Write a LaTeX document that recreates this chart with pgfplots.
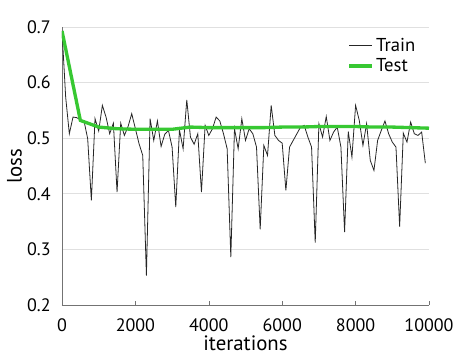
\documentclass[border=0pt]{standalone}
\usepackage{pgfplots}
\pgfplotsset{compat=1.18}
\usepackage{fontspec}
\setmainfont{PT Sans}
\definecolor{testgreen}{RGB}{55,200,50}
\begin{document}
\begin{tikzpicture}
\begin{axis}[
  scale only axis, width=275.25pt, height=208.5pt,
  xmin=0, xmax=10000, ymin=0.2, ymax=0.7,
  axis lines*=left,
  axis line style={black!55, line width=0.6pt},
  ymajorgrids, grid style={black!12, line width=0.6pt},
  xtick={0,2000,4000,6000,8000,10000},
  ytick={0.2,0.3,0.4,0.5,0.6,0.7},
  /pgf/number format/assume math mode=true,
  yticklabel style={/pgf/number format/fixed, /pgf/number format/precision=1, /pgf/number format/fixed zerofill, xshift=-5pt},
  scaled x ticks=false,
  xticklabel style={/pgf/number format/1000 sep={}, yshift=-7pt},
  tick align=inside, major tick length=3pt, tick style={black!55},
  ytick style={draw=none},
  tick label style={font=\fontsize{13.5}{15}\selectfont},
  label style={font=\fontsize{15.6}{18}\selectfont},
  xlabel=iterations, ylabel=loss,
  xlabel style={at={(axis description cs:0.5,-0.163)}, anchor=base},
  ylabel style={at={(axis description cs:-0.1097,0.5)}, anchor=base},
  legend style={at={(1,1)}, anchor=north east, xshift=-5pt, yshift=-4pt, draw=none, fill=white, font=\fontsize{14}{16}\selectfont, row sep=0pt},
  legend cell align=left,
]
\addplot[black!85, line width=0.6pt] coordinates {
(0,0.693)(100,0.574)(200,0.508)(300,0.538)(400,0.537)(500,0.533)(600,0.531)(700,0.499)(800,0.388)(900,0.535)
(1000,0.513)(1100,0.559)(1200,0.538)(1300,0.508)(1400,0.527)(1500,0.403)(1600,0.527)(1700,0.505)(1800,0.521)(1900,0.544)
(2000,0.517)(2100,0.490)(2200,0.469)(2300,0.253)(2400,0.535)(2500,0.496)(2600,0.531)(2700,0.485)(2800,0.507)(2900,0.514)
(3000,0.484)(3100,0.376)(3200,0.515)(3300,0.481)(3400,0.569)(3500,0.502)(3600,0.489)(3700,0.508)(3800,0.403)(3900,0.523)
(4000,0.505)(4100,0.517)(4200,0.538)(4300,0.531)(4400,0.508)(4500,0.481)(4600,0.286)(4700,0.517)(4800,0.481)(4900,0.535)
(5000,0.496)(5100,0.517)(5200,0.508)(5300,0.484)(5400,0.336)(5500,0.487)(5600,0.469)(5700,0.559)(5800,0.505)(5900,0.496)
(6000,0.491)(6100,0.406)(6200,0.484)(6300,0.496)(6400,0.508)(6500,0.520)(6600,0.523)(6700,0.502)(6800,0.484)(6900,0.312)
(7000,0.526)(7100,0.502)(7200,0.539)(7300,0.496)(7400,0.511)(7500,0.520)(7600,0.484)(7700,0.331)(7800,0.512)(7900,0.466)
(8000,0.559)(8100,0.532)(8200,0.487)(8300,0.526)(8400,0.460)(8500,0.442)(8600,0.496)(8700,0.514)(8800,0.531)(8900,0.508)
(9000,0.493)(9100,0.484)(9200,0.341)(9300,0.509)(9400,0.493)(9500,0.529)(9600,0.508)(9700,0.505)(9800,0.511)(9900,0.455)
};
\addlegendentry{Train}
\addplot[testgreen, line width=2.5pt] coordinates {
(0,0.693)(500,0.532)(1000,0.520)(1500,0.517)(2000,0.516)(2500,0.516)(3000,0.516)(3500,0.520)(4000,0.519)(4500,0.519)
(5000,0.519)(5500,0.519)(6000,0.520)(6500,0.520)(7000,0.521)(7500,0.521)(8000,0.521)(8500,0.520)(9000,0.520)(9500,0.519)(10000,0.518)
};
\addlegendentry{Test}
\end{axis}
\pgfresetboundingbox
\path ([shift={(-46.5pt,-37.5pt)}]current axis.south west) rectangle ([shift={(33.75pt,20.25pt)}]current axis.north east);
\end{tikzpicture}
\end{document}
